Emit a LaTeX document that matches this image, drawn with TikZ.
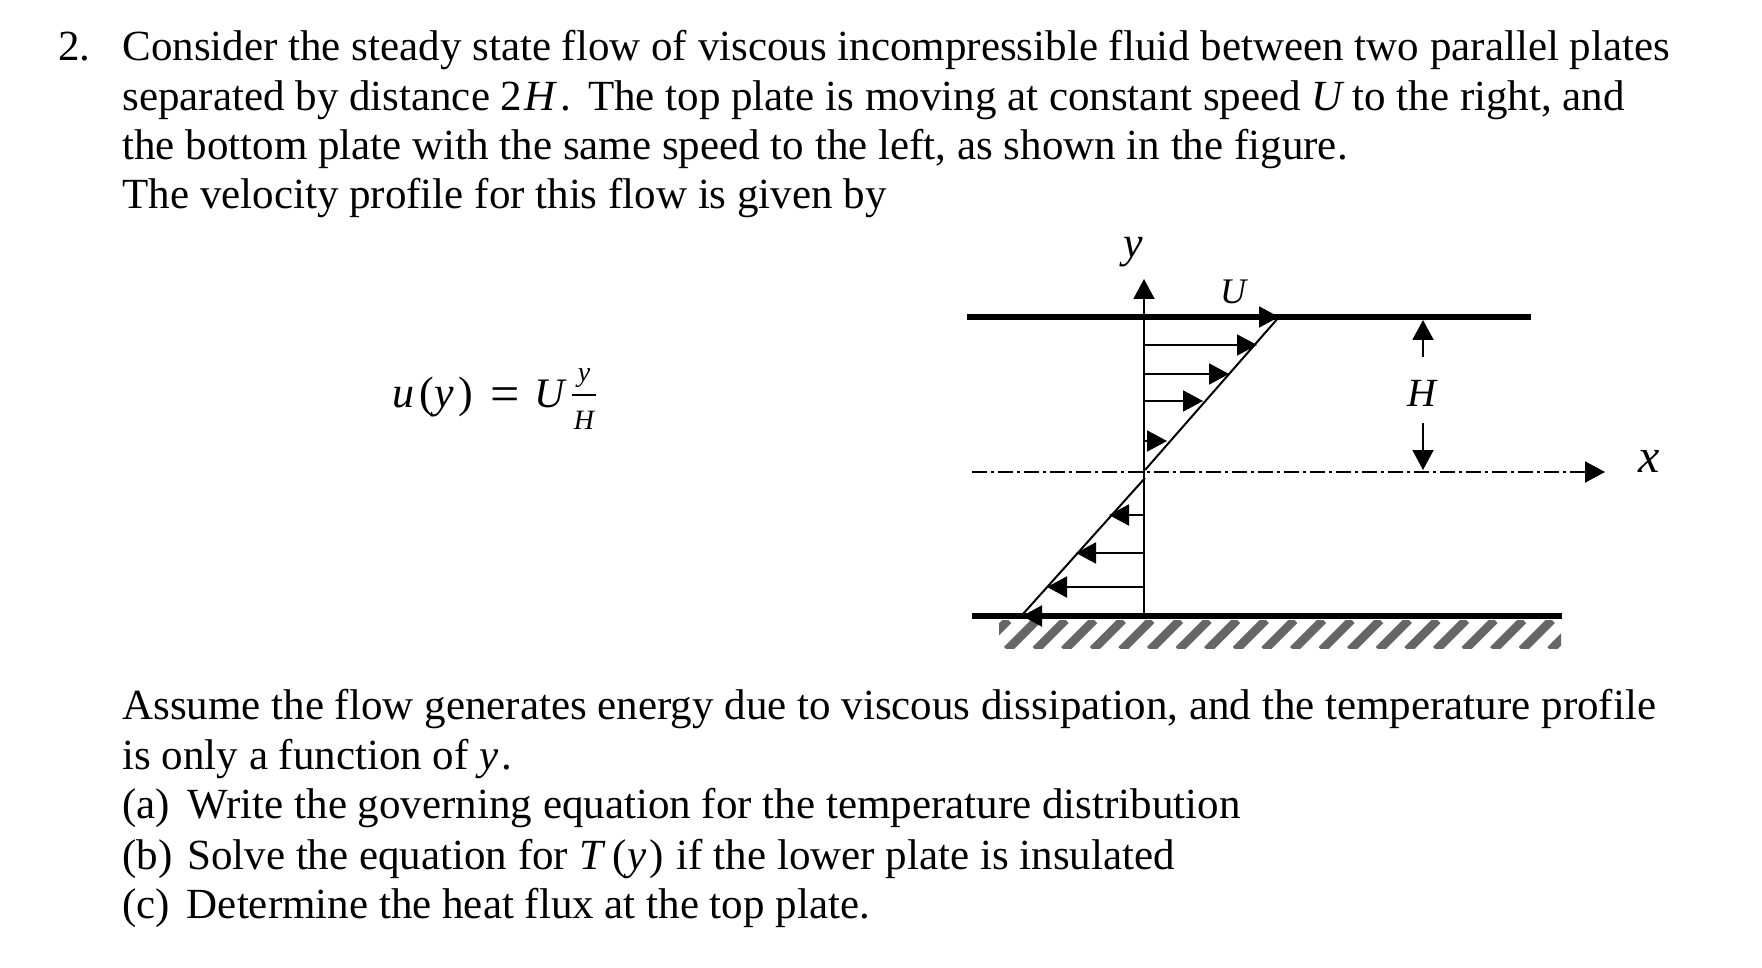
\documentclass[tikz,border=0pt]{standalone}
\usepackage{fontspec}
\setmainfont{Liberation Serif}
\usetikzlibrary{arrows.meta}
\newcommand{\mi}[1]{\textit{#1}}
\tikzset{
    textline/.style={anchor=base west, inner sep=0pt, font=\fontsize{21.5}{25}\selectfont},
    symbol/.style={inner sep=0pt, font=\fontsize{20}{24}\selectfont\itshape},
    smallsym/.style={anchor=base, inner sep=0pt, font=\fontsize{14}{16}\selectfont\itshape},
    eqpart/.style={anchor=base west, inner sep=0pt, font=\fontsize{22}{26}\selectfont},
    bigtip/.style={-{Triangle[length=10pt,width=10.5pt]}},
    plate/.style={line width=2.9pt},
    thinline/.style={line width=1pt},
    centerline/.style={line width=1pt, dash pattern=on 7.5pt off 2pt on 1.5pt off 2pt}
}
\begin{document}
\begin{tikzpicture}[x=0.5pt,y=-0.5pt]
        \useasboundingbox (0,0) rectangle (1762,968);
        % problem text
        \node[textline] (num) at (58,61) {2.};
        \node[textline] (l1) at (122,61) {Consider the steady state flow of viscous incompressible fluid between two parallel plates};
        \node[textline] (l2) at (122,111) {separated by distance 2\hspace{1pt}\mi{H}\hspace{1.5pt}.\hspace{8.5pt}The top plate is moving at constant speed \mi{U}\hspace{-1.7pt} to the right, and};
        \node[textline] (l3) at (122,160) {the bottom plate with the same speed to the left, as shown in the figure.};
        \node[textline] (l4) at (122,209) {The velocity profile for this flow is given by};
        \node[textline] (l5) at (122,719) {Assume the flow generates energy due to viscous dissipation, and the temperature profile};
        \node[textline] (l6) at (122,769) {is only a function of \mi{y}\hspace{1.5pt}.};
        \node[textline] (l7) at (122,818) {(a)\hspace{8.8pt}Write the governing equation for the temperature distribution};
        \node[textline] (l8) at (122,869) {(b)\hspace{7.4pt}Solve the equation for \mi{T}\hspace{3.5pt}(\hspace{0.5pt}\mi{y}\hspace{1.5pt})\hspace{1pt} if the lower plate is insulated};
        \node[textline] (l9) at (122,918) {(c)\hspace{8.4pt}Determine the heat flux at the top plate.};
        % velocity profile
        \node[eqpart] (eqU) at (392,408) {\mi{u}\hspace{2.5pt}(\mi{y}\hspace{2.5pt})};
        \node[eqpart, font=\fontsize{26}{28}\selectfont] (eqEq) at (490,411) {=};
        \node[eqpart, font=\fontsize{21}{26}\selectfont] (eqV) at (534,408) {\mi{U}};
        \node[smallsym] (fracy) at (584,381) {y};
        \node[smallsym] (fracH) at (584,429) {H};
        \draw[line width=1.3pt] (572,395) -- (596,395);
        % plates
        \coordinate (topL) at (967,317);
        \coordinate (topR) at (1531,317);
        \coordinate (botL) at (972,616);
        \coordinate (botR) at (1562,616);
        \begin{scope}
            \clip (999,620) rectangle (1561,648);
            \foreach \i in {-1,...,20}
                \draw[line width=4.3pt, black!60] (1007+28.6*\i,650) -- (1037+28.6*\i,620);
        \end{scope}
        \draw[plate] (topL) -- (topR);
        \draw[plate] (botL) -- (botR);
        % axes
        \coordinate (origin) at (1144,616);
        \coordinate (yTip) at (1144,279);
        \coordinate (xStart) at (972,472);
        \coordinate (xTip) at (1605,472);
        \draw[thinline, bigtip] (origin) -- (yTip);
        \draw[centerline] (xStart) -- (1584,472);
        \draw[thinline, bigtip] (1583,472) -- (xTip);
        \node[symbol, font=\fontsize{22}{24}\selectfont\itshape] (yLabel) at (1133,252) {y};
        \node[symbol, font=\fontsize{24}{24}\selectfont\itshape] (xLabel) at (1649,461) {x};
        \node[symbol, font=\fontsize{18}{24}\selectfont\itshape] (uLabel) at (1233,292) {U};
        % profile
        \coordinate (profTop) at (1279,317);
        \coordinate (profMidA) at (1145,470);
        \coordinate (profMidB) at (1145,478);
        \coordinate (profBot) at (1023,614);
        \draw[thinline] (profTop) -- (profMidA);
        \draw[thinline] (profMidB) -- (profBot);
        \foreach \yy/\tip in {317/1279,345/1257,374/1229,401/1203,441/1167,515/1109,553/1076,587/1047,616/1022}
        {
            \coordinate (s\yy) at (1145,\yy);
            \coordinate (t\yy) at (\tip,\yy);
            \draw[thinline, bigtip] (s\yy) -- (t\yy);
        }
        % H dimension
        \coordinate (hTop) at (1423,320);
        \coordinate (hUp) at (1423,357);
        \coordinate (hDown) at (1423,423);
        \coordinate (hBot) at (1423,470);
        \node[symbol] (hLabel) at (1422,393) {H};
        \draw[thinline, bigtip] (hUp) -- (hTop);
        \draw[thinline, bigtip] (hDown) -- (hBot);
      \end{tikzpicture}
\end{document}
